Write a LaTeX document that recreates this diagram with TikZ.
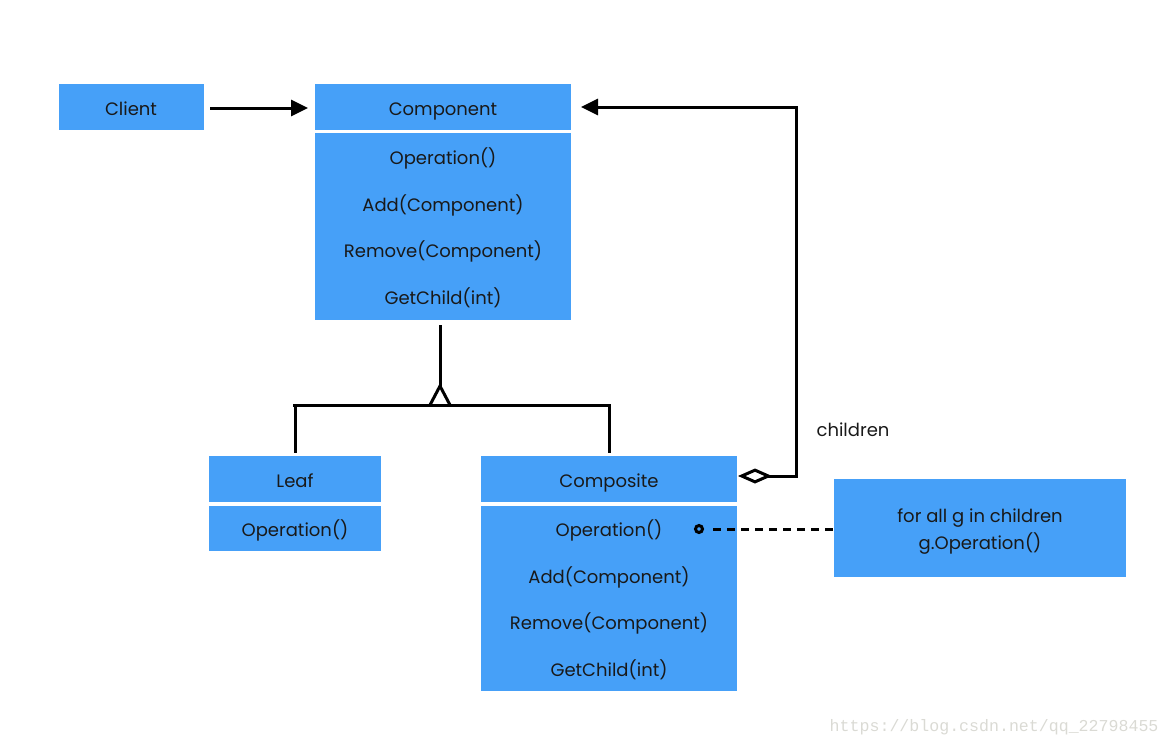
\documentclass[tikz,border=0pt]{standalone}
\usepackage{fontspec}
\setmainfont{Poppins}
\newfontfamily\wmfont{Liberation Mono}
\usetikzlibrary{arrows.meta}
\definecolor{boxblue}{RGB}{70,160,248}
\definecolor{wm}{RGB}{218,218,212}
\begin{document}
\begin{tikzpicture}[x=1pt,y=-1pt,
  box/.style={fill=boxblue,draw=none,inner sep=0pt,anchor=north west},
  conn/.style={line width=3pt},
  lbl/.style={font=\fontsize{18}{22}\selectfont,text=black!90,text height=14pt,text depth=4pt,yshift=-1.5pt}]
\useasboundingbox (0,0) rectangle (1170,748);
% Client
\node[box,minimum width=145pt,minimum height=46pt] (client) at (59,84) {};
\node[lbl] at (131,109) {Client};
% Component
\node[box,minimum width=256pt,minimum height=46pt] (comph) at (315,84) {};
\node[box,minimum width=256pt,minimum height=187pt] (compb) at (315,133) {};
\node[lbl] at (443,109) {Component};
\node[lbl] at (443,158) {Operation()};
\node[lbl] at (443,205) {Add(Component)};
\node[lbl] at (443,251) {Remove(Component)};
\node[lbl] at (443,298) {GetChild(int)};
% Leaf
\node[box,minimum width=172pt,minimum height=46pt] (leafh) at (209,456) {};
\node[box,minimum width=172pt,minimum height=45pt] (leafb) at (209,506) {};
\node[lbl] at (295,481) {Leaf};
\node[lbl] at (295,530) {Operation()};
% Composite
\node[box,minimum width=256pt,minimum height=46pt] (comph2) at (481,456) {};
\node[box,minimum width=256pt,minimum height=185pt] (compb2) at (481,506) {};
\node[lbl] at (609,481) {Composite};
\node[lbl] (cop) at (609,530) {Operation()};
\node[lbl] at (609,577) {Add(Component)};
\node[lbl] at (609,623) {Remove(Component)};
\node[lbl] at (609,670) {GetChild(int)};
% Note
\node[box,minimum width=292pt,minimum height=98pt] (note) at (834,479) {};
\node[lbl] at (980,516) {for all g in children};
\node[lbl] at (980,543) {g.Operation()};
\node[lbl] (childlbl) at (853,430) {children};
% connectors
\coordinate (cl) at (210,108);
\coordinate (ct) at (308,108);
\draw[conn,-{Triangle[length=17pt,width=16pt]}] (cl) -- (ct);
\coordinate (dia) at (738,476);
\coordinate (back) at (581,107);
\draw[conn,{Diamond[open,length=34pt,width=15pt,fill=white,line width=3pt]}-{Triangle[length=17pt,width=16pt]}] (dia) -- (796,476) -- (796,107) -- (back);
% inheritance
\coordinate (apex) at (440,386);
\draw[conn] (440,325) -- (apex);
\draw[conn,line join=miter] (430,405) -- (apex) -- (450,405);
\draw[conn] (293,405) -- (611,405);
\draw[conn] (295,405) -- (295,453);
\draw[conn] (609,405) -- (609,453);
% dashed note link
\coordinate (circ) at (699,529);
\draw[line width=3pt] (circ) circle (3.5pt);
\draw[line width=3pt,dash pattern=on 8pt off 6pt] (713,529) -- (note.west |- 0,529);
% watermark
\node[font=\wmfont\fontsize{16.6}{18}\selectfont,text=wm,anchor=east] at (1162,727) {https://blog.csdn.net/qq\_22798455};
\end{tikzpicture}
\end{document}
